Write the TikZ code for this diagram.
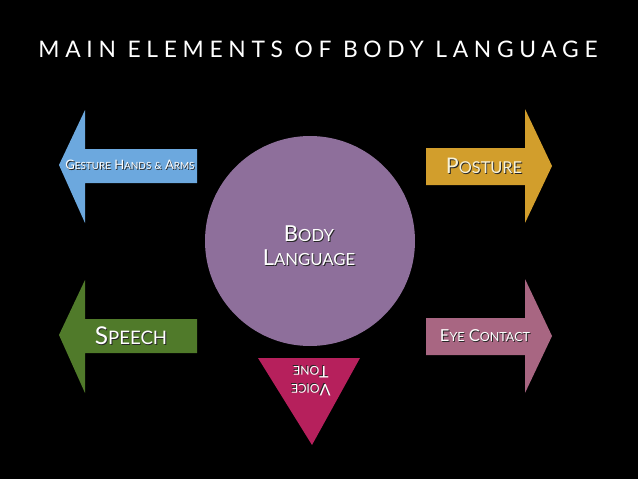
\documentclass[tikz,border=0pt]{standalone}
\usepackage{fontspec}
\setmainfont{Lato}
\newfontfamily\titlefont[LetterSpace=25]{Lato}
\makeatletter
\newcommand\smc[1]{{\edef\tmpsz{\the\dimexpr0.76\dimexpr\f@size pt\relax\relax}\fontsize{\tmpsz}{\tmpsz}\selectfont #1}}
\makeatother
\newcommand\shd[1]{\makebox[0pt][l]{\kern0.9pt\raisebox{-0.9pt}{\color{black!85}#1}}#1}
\definecolor{gestureblue}{RGB}{108,168,222}
\definecolor{posturegold}{RGB}{210,158,44}
\definecolor{speechgreen}{RGB}{80,122,42}
\definecolor{eyepink}{RGB}{168,102,130}
\definecolor{bodypurple}{RGB}{142,111,155}
\definecolor{voicered}{RGB}{182,32,92}
\definecolor{cream}{RGB}{248,242,215}
\tikzset{
  lbl/.style={text=white, inner sep=0pt, align=center},
}
\begin{document}
\begin{tikzpicture}[x=1pt,y=-1pt]
\fill[black] (0,0) rectangle (638,479);
\useasboundingbox (0,0) rectangle (638,479);
% title
\node[text=white, inner sep=0pt] (title) at (318,49) {\titlefont\fontsize{22.8}{26}\selectfont MAIN ELEMENTS OF BODY LANGUAGE};
% circle
\fill[bodypurple] (310,241) circle (105pt);
% gesture arrow (left)
\fill[gestureblue] (59,165) -- (85,110) -- (85,149) -- (197,149) -- (197,183) -- (85,183) -- (85,223) -- cycle;
% posture arrow (right)
\fill[posturegold] (552,166) -- (525,109) -- (525,148) -- (426,148) -- (426,185) -- (525,185) -- (525,223) -- cycle;
% speech arrow (left)
\fill[speechgreen] (59,335) -- (85,280) -- (85,319) -- (197,319) -- (197,353) -- (85,353) -- (85,393) -- cycle;
% eye contact arrow (right)
\fill[eyepink] (552,336) -- (525,279) -- (525,318) -- (426,318) -- (426,355) -- (525,355) -- (525,393) -- cycle;
% voice triangle
\fill[voicered] (258,358) -- (360,358) -- (312,445) -- cycle;
% labels
\node[lbl, font=\fontsize{13}{15}\selectfont] (gesture) at (130,165) {\shd{G\smc{ESTURE} H\smc{ANDS} \smc{\&} A\smc{RMS}}};
\node[lbl, text=cream, font=\fontsize{21.5}{23}\selectfont] (posture) at (484,166) {\shd{P\smc{OSTURE}}};
\node[lbl, font=\fontsize{24.5}{26}\selectfont] (speech) at (131,336) {\shd{S\smc{PEECH}}};
\node[lbl, font=\fontsize{16.5}{18}\selectfont] (eye) at (485,336) {\shd{E\smc{YE} C\smc{ONTACT}}};
\node[lbl, font=\fontsize{22}{24}\selectfont] (body) at (309,246) {\shd{B\smc{ODY}}\\\shd{L\smc{ANGUAGE}}};
\node[lbl, rotate=180, font=\fontsize{16}{18}\selectfont] (voice) at (311,381) {\shd{V\smc{OICE}}\\\shd{T\smc{ONE}}};
\end{tikzpicture}
\end{document}
